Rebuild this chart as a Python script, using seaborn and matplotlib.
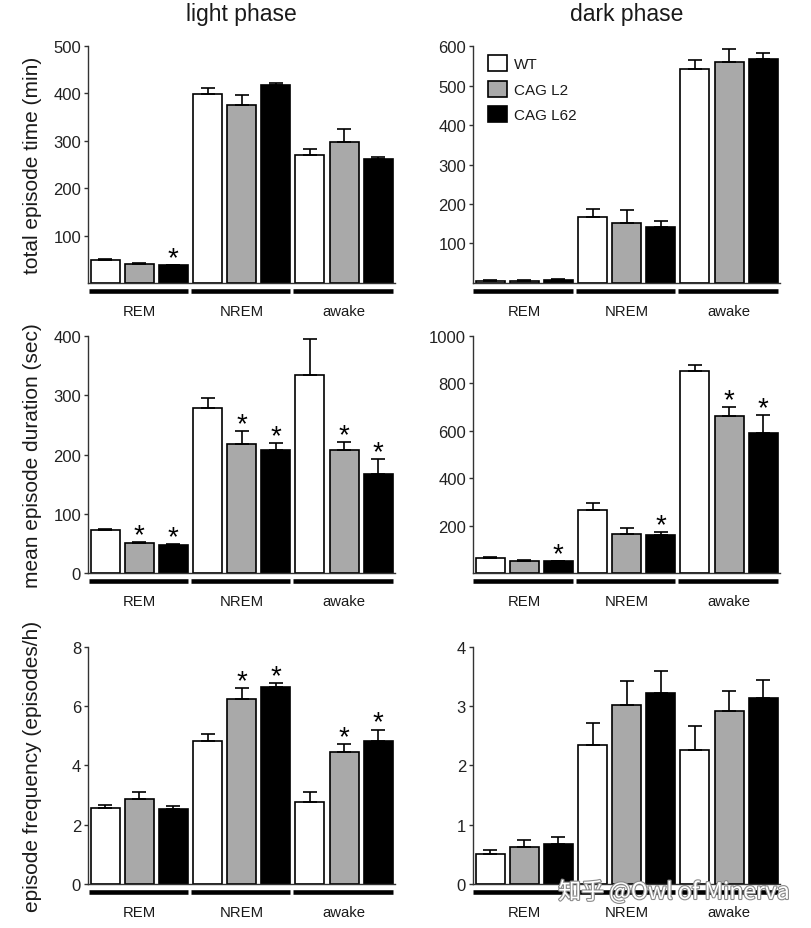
import numpy as np
import pandas as pd
import seaborn as sns
import matplotlib.pyplot as plt
import matplotlib.patheffects as pe
from matplotlib.patches import Patch
from matplotlib.container import BarContainer

sns.set_style('ticks')
plt.rcParams['font.family'] = ['Liberation Sans', 'DejaVu Sans']
plt.rcParams['axes.edgecolor'] = '#333333'
plt.rcParams['text.color'] = '#1a1a1a'

STATES = ["REM", "NREM", "awake"]
GENOS = ["WT", "CAG L2", "CAG L62"]
COLORS = ["white", "#a9a9a9", "black"]

# order: REM (WT, L2, L62), NREM (WT, L2, L62), awake (WT, L2, L62)
light_total = [48, 41, 37, 398, 375, 418, 269, 298, 261]
light_total_err = [2, 2, 1.5, 13, 22, 5, 14, 26, 4]
light_total_sig = [0, 0, 1, 0, 0, 0, 0, 0, 0]

dark_total = [4, 5, 8, 166, 151, 143, 543, 559, 567]
dark_total_err = [3, 3, 1, 22, 35, 13, 21, 34, 15]
dark_total_sig = [0, 0, 0, 0, 0, 0, 0, 0, 0]

light_dur = [73, 50, 48, 278, 217, 208, 334, 208, 167]
light_dur_err = [2, 2, 1, 17, 22, 11, 61, 13, 25]
light_dur_sig = [0, 1, 1, 0, 1, 1, 0, 1, 1]

dark_dur = [62, 52, 50, 265, 166, 160, 851, 663, 590]
dark_dur_err = [6, 2, 2, 29, 23, 12, 28, 36, 76]
dark_dur_sig = [0, 0, 1, 0, 0, 1, 0, 1, 1]

light_freq = [2.55, 2.86, 2.52, 4.82, 6.24, 6.64, 2.76, 4.47, 4.82]
light_freq_err = [0.10, 0.23, 0.12, 0.24, 0.37, 0.15, 0.35, 0.24, 0.39]
light_freq_sig = [0, 0, 0, 0, 1, 1, 0, 1, 1]

dark_freq = [0.51, 0.63, 0.67, 2.35, 3.02, 3.22, 2.26, 2.92, 3.14]
dark_freq_err = [0.07, 0.12, 0.12, 0.36, 0.41, 0.37, 0.40, 0.33, 0.30]
dark_freq_sig = [0, 0, 0, 0, 0, 0, 0, 0, 0]

panels = [
    (light_total, light_total_err, light_total_sig, 500, [100, 200, 300, 400, 500],
     "total episode time (min)", (0.1085, 0.6943)),
    (dark_total, dark_total_err, dark_total_sig, 600, [100, 200, 300, 400, 500, 600],
     None, (0.5832, 0.6943)),
    (light_dur, light_dur_err, light_dur_sig, 400, [0, 100, 200, 300, 400],
     "mean episode duration (sec)", (0.1085, 0.3821)),
    (dark_dur, dark_dur_err, dark_dur_sig, 1000, [200, 400, 600, 800, 1000],
     None, (0.5832, 0.3821)),
    (light_freq, light_freq_err, light_freq_sig, 8, [0, 2, 4, 6, 8],
     "episode frequency (episodes/h)", (0.1085, 0.0474)),
    (dark_freq, dark_freq_err, dark_freq_sig, 4, [0, 1, 2, 3, 4],
     None, (0.5832, 0.0474)),
]

fig = plt.figure(figsize=(8.11, 9.29), dpi=100)
W, H = 0.379, 0.2551

for i, (vals, errs, sig, ymax, ticks, ylabel, (x0, y0)) in enumerate(panels):
    ax = fig.add_axes([x0, y0, W, H])
    df = pd.DataFrame({"state": np.repeat(STATES, 3),
                       "genotype": GENOS * 3,
                       "value": vals})
    sns.barplot(data=df, x="state", y="value", hue="genotype",
                order=STATES, hue_order=GENOS, palette=COLORS,
                width=1.0, gap=0.15, edgecolor="black", linewidth=1.2,
                errorbar=None, legend=False, ax=ax)

    # upper-only error bars and significance stars
    bars = [c for c in ax.containers if isinstance(c, BarContainer)]
    for g, cont in enumerate(bars):
        for s, patch in enumerate(cont.patches):
            k = s * 3 + g
            xc = patch.get_x() + patch.get_width() / 2
            ax.errorbar([xc], [vals[k]], yerr=[[0], [errs[k]]], fmt="none",
                        ecolor="black", elinewidth=1.2, capsize=5,
                        capthick=1.2, zorder=1)
            if sig[k]:
                ax.annotate("*", (xc, vals[k] + errs[k]), xytext=(0, 0),
                            textcoords="offset points", ha="center",
                            va="baseline", fontsize=20, color="black")

    ax.set_xlim(-0.5, 2.5)
    ax.set_ylim(0, ymax)
    ax.set_yticks(ticks)
    ax.set_yticklabels([str(t) for t in ticks], fontsize=12, color="#222222")
    ax.tick_params(axis="y", length=3, width=1, pad=2, color="#333333")
    ax.tick_params(axis="x", length=0, pad=15, labelsize=10.7, labelcolor="#1a1a1a")
    ax.set_xlabel("")
    ax.set_ylabel(ylabel if ylabel else "", fontsize=15, color="#1a1a1a")
    ax.yaxis.set_label_coords(-0.15, 0.5)
    sns.despine(ax=ax)
    ax.spines["left"].set_linewidth(1.0)
    ax.spines["bottom"].set_linewidth(1.0)

    # thick group underline bars
    for j in range(len(STATES)):
        ax.plot([j - 0.495, j + 0.475], [-0.034, -0.034], color="black", lw=3.3,
                solid_capstyle="butt", transform=ax.get_xaxis_transform(),
                clip_on=False)

    if i == 1:
        handles = [Patch(facecolor=c, edgecolor="black", linewidth=1.2) for c in COLORS]
        ax.legend(handles, GENOS, loc="upper left", bbox_to_anchor=(0.02, 1.0),
                  frameon=False, fontsize=11, handlelength=1.25, handleheight=1.25,
                  labelspacing=0.6, handletextpad=0.45, borderaxespad=0.2)

fig.text(241 / 811, 1 - 15 / 929, "light phase", ha="center", va="center", fontsize=16.5)
fig.text(627 / 811, 1 - 15 / 929, "dark phase", ha="center", va="center", fontsize=16.5)

fig.text(790 / 811, 1 - 893 / 929, "知乎 @Owl of Minerva", ha="right", va="center",
         fontsize=16.5, color="white", family=["Noto Sans CJK SC", "DejaVu Sans"],
         path_effects=[pe.withStroke(linewidth=1.6, foreground="#8a8a8a")])

fig.savefig("out.png", dpi=100)
